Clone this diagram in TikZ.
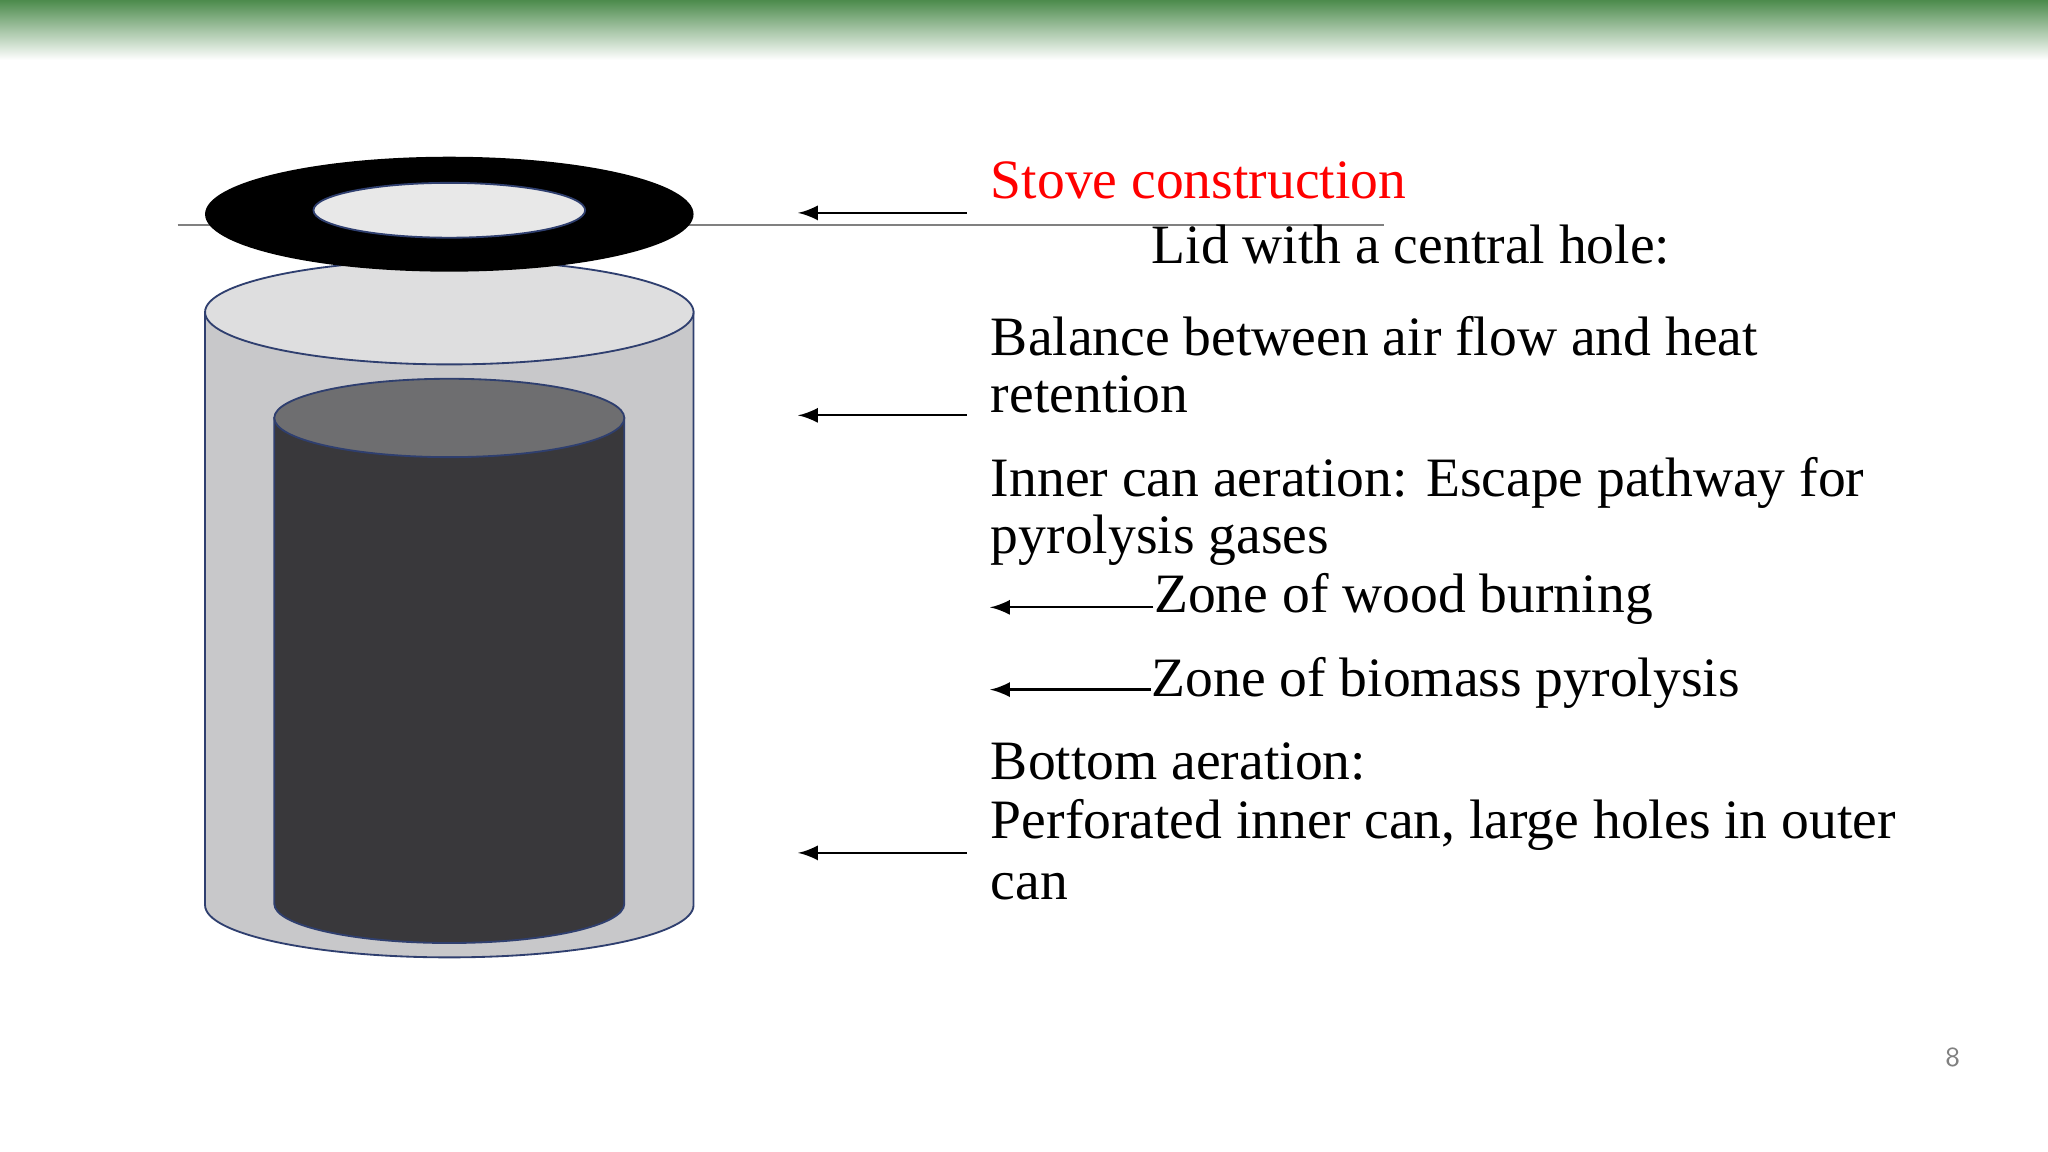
\documentclass[tikz,border=0pt]{standalone}
\usepackage{fontspec}
\setmainfont{Liberation Serif}
\definecolor{innertop}{HTML}{6E6E70}
\definecolor{innerbody}{HTML}{39383B}
\definecolor{outerbody}{HTML}{C8C8CA}
\definecolor{outertop}{HTML}{DEDEDF}
\definecolor{edgeblue}{HTML}{2F3F6F}
\begin{document}
\begin{tikzpicture}[x=0.01cm,y=-0.01cm,
  txt/.style={anchor=base west,inner sep=0pt,font=\fontsize{12.1}{14}\selectfont},
  arr/.style={-latex,line width=0.5pt},
  edge/.style={draw=edgeblue,line width=0.4pt}]
\useasboundingbox (0,0) rectangle (1568,882);
\fill[white] (0,0) rectangle (1568,882);
\shade[top color=green!35!black!70!white,bottom color=white] (0,0) rectangle (1568,46);
% outer can
\path[edge,fill=outerbody] (157,239) -- (157,693) arc[start angle=180,end angle=0,x radius=187,y radius=40] -- (531,239) -- cycle;
\path[edge,fill=outertop] (344,239) ellipse[x radius=187,y radius=40];
% inner can
\path[edge,fill=innerbody] (210,320) -- (210,692) arc[start angle=180,end angle=0,x radius=134,y radius=30] -- (478,320) -- cycle;
\path[edge,fill=innertop] (344,320) ellipse[x radius=134,y radius=30];
% line
\draw[gray,line width=0.4pt] (136,172) -- (1060,172);
% lid
\fill[black] (344,164) ellipse[x radius=187,y radius=44];
\path[edge,fill=gray!18] (344,161) ellipse[x radius=104,y radius=21];
% texts
\node[txt,text=red] (t1) at (758,152) {Stove construction};
\node[txt] (t2) at (881,202) {Lid with a central hole:};
\node[txt] (t3) at (758,272) {Balance between air flow and heat};
\node[txt] (t4) at (758,316) {retention};
\node[txt] (t5) at (758,380) {Inner can aeration: Escape pathway for};
\node[txt] (t6) at (758,424) {pyrolysis gases};
\node[txt] (t7) at (883,469) {Zone of wood burning};
\node[txt] (t8) at (881,533) {Zone of biomass pyrolysis};
\node[txt] (t9) at (758,597) {Bottom aeration:};
\node[txt] (t10) at (758,642) {Perforated inner can, large holes in outer};
\node[txt] (t11) at (758,689) {can};
\node[anchor=center,text=gray,font=\sffamily\fontsize{6}{7}\selectfont] (pg) at (1495,810) {8};
% arrows
\coordinate (a1s) at (740,163); \coordinate (a1e) at (611,163);
\coordinate (a2s) at (740,318); \coordinate (a2e) at (611,318);
\coordinate (a3s) at (740,653); \coordinate (a3e) at (611,653);
\coordinate (a4e) at (758,465); \coordinate (a5e) at (758,528);
\draw[arr] (a1s) -- (a1e);
\draw[arr] (a2s) -- (a2e);
\draw[arr] (a3s) -- (a3e);
\draw[arr] (t7.base west |- a4e) -- (a4e);
\draw[arr] (t8.base west |- a5e) -- (a5e);
\end{tikzpicture}
\end{document}
